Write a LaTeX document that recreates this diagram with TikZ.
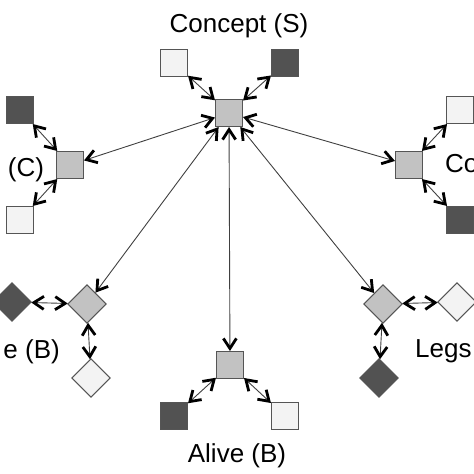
\documentclass[tikz,border=0pt]{standalone}
\usepackage{fontspec}
\setmainfont{Liberation Sans}
\usetikzlibrary{arrows.meta}
\definecolor{midgray}{HTML}{C2C2C2}
\definecolor{lightgray2}{HTML}{F3F3F3}
\definecolor{darkgray2}{HTML}{525252}
\definecolor{edgegray}{HTML}{555555}
\tikzset{
  sq/.style={draw=edgegray, line width=1pt, minimum size=27pt, inner sep=0pt, rectangle},
  mid/.style={sq, fill=midgray},
  lite/.style={sq, fill=lightgray2},
  dark/.style={sq, fill=darkgray2},
  dia/.style={rotate=45},
  lbl/.style={font=\fontsize{26}{30}\selectfont, inner sep=0pt},
  tipx/.tip={Straight Barb[length=10pt,width=13pt,line width=2.8pt,color=black]},
  link/.style={draw=black!75, line width=0.9pt, tipx-tipx}
}
\begin{document}
\begin{tikzpicture}[x=1pt,y=-1pt]
\useasboundingbox (0,0) rectangle (474,474);
\clip (0,0) rectangle (474,474);
% center
\node[mid] (S) at (229,113) {};
\node[lite] (S1) at (174,63) {};
\node[dark] (S2) at (285,63) {};
\node[lbl, anchor=base] (tS) at (239,32) {Concept (S)};
% left C
\node[mid] (C) at (70,165) {};
\node[dark] (C1) at (20,110) {};
\node[lite] (C2) at (20,220) {};
\node[lbl, anchor=base] (tC) at (26,176) {(C)};
% right Co
\node[mid] (R) at (409,165) {};
\node[lite] (R1) at (460,110) {};
\node[dark] (R2) at (460,220) {};
\node[lbl, anchor=base west] (tR) at (445,172) {Co};
% bottom-left diamond
\node[mid, dia] (L) at (87,304) {};
\node[dark, dia] (L1) at (12,302) {};
\node[lite, dia] (L2) at (91,378) {};
\node[lbl, anchor=base east] (tL) at (60,358) {e (B)};
% bottom-right diamond
\node[mid, dia] (G) at (383,304) {};
\node[lite, dia] (G1) at (457,302) {};
\node[dark, dia] (G2) at (379,378) {};
\node[lbl, anchor=base west] (tG) at (415,357) {Legs};
% bottom
\node[mid] (A) at (230,365) {};
\node[dark] (A1) at (174,416) {};
\node[lite] (A2) at (285,416) {};
\node[lbl, anchor=base] (tA) at (237,462) {Alive (B)};
% connectors
\draw[link] (S) -- (S1);
\draw[link] (S) -- (S2);
\draw[link] (S) -- (C);
\draw[link] (S) -- (R);
\draw[link] (S) -- (L);
\draw[link] (S) -- (G);
\draw[link] (S) -- (A);
\draw[link] (C) -- (C1);
\draw[link] (C) -- (C2);
\draw[link] (R) -- (R1);
\draw[link] (R) -- (R2);
\draw[link] (L) -- (L1);
\draw[link] (L) -- (L2);
\draw[link] (G) -- (G1);
\draw[link] (G) -- (G2);
\draw[link] (A) -- (A1);
\draw[link] (A) -- (A2);
\end{tikzpicture}
\end{document}
